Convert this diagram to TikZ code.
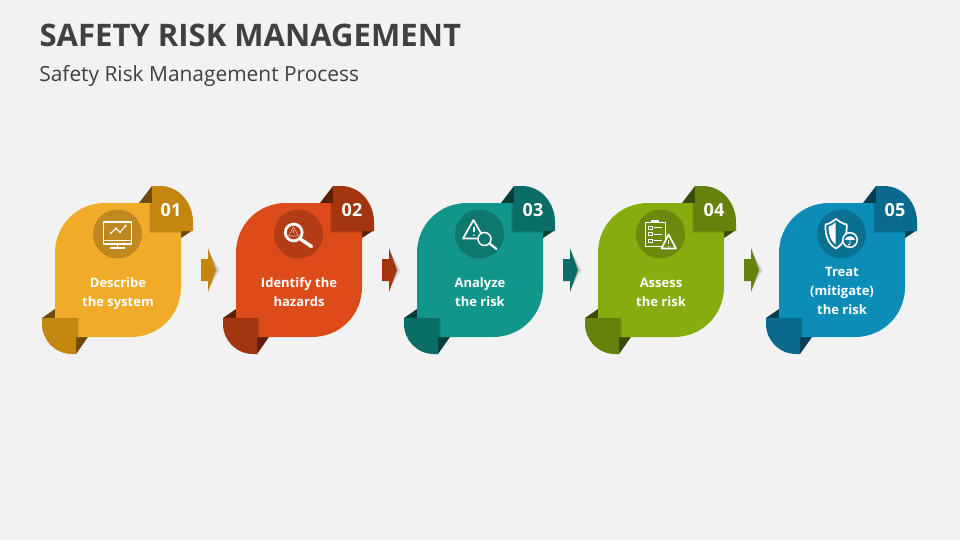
\documentclass[tikz,border=0pt]{standalone}
\usepackage{fontspec}
\setmainfont{Open Sans}
\definecolor{pagebg}{HTML}{F2F2F2}
\definecolor{titlegray}{HTML}{404040}
\definecolor{cardA}{HTML}{F0AB28}
\definecolor{flapA}{HTML}{C4860F}
\definecolor{foldA}{HTML}{6E4B08}
\definecolor{cardB}{HTML}{DD4B1A}
\definecolor{flapB}{HTML}{A3360F}
\definecolor{foldB}{HTML}{5E1F08}
\definecolor{cardC}{HTML}{12958A}
\definecolor{flapC}{HTML}{0B6E66}
\definecolor{foldC}{HTML}{063F3A}
\definecolor{cardD}{HTML}{86AD10}
\definecolor{flapD}{HTML}{65820C}
\definecolor{foldD}{HTML}{3A4B06}
\definecolor{cardE}{HTML}{0C8DB8}
\definecolor{flapE}{HTML}{0A6A8E}
\definecolor{foldE}{HTML}{053D52}
\begin{document}
\begin{tikzpicture}[x=1pt,y=-1pt,
  cardtext/.style={text=white,align=center,font=\fontsize{13}{19}\selectfont\bfseries},
  numtext/.style={text=white,font=\fontsize{18}{18}\selectfont\bfseries},
  iconline/.style={draw=white,line width=1.5pt,line join=round},
  iconthick/.style={draw=white,line width=2.8pt,line cap=round},
  softshadow/.style={fill=black,opacity=0.09}]
% The page
\fill[pagebg] (0,0) rectangle (960,540);
\node[anchor=west,text=titlegray,font=\fontsize{31.05}{33}\selectfont\bfseries] (title) at (36,35) {SAFETY RISK MANAGEMENT};
\node[anchor=west,text=titlegray,font=\fontsize{20.9}{21}\selectfont] (subtitle) at (35.8,76) {Safety Risk Management Process};

% The five cards
\foreach \dx/\c/\num/\ly/\lbl in {
  0/A/01/294/{Describe\\the system},
  181/B/02/292/{Identify the\\hazards},
  362/C/03/292/{Analyze\\the risk},
  543/D/04/292/{Assess\\the risk},
  724/E/05/291/{Treat\\(mitigate)\\the risk}}
{
  \begin{scope}[shift={(\dx,0)}]
    % Folds behind the card
    \fill[fold\c] (139,203) -- (152,186) -- (152,203) -- cycle;
    \fill[fold\c] (181,230) -- (193,230) -- (181,238) -- cycle;
    \fill[fold\c] (42,318) -- (55,309) -- (55,318) -- cycle;
    \fill[fold\c] (76,354) -- (88,337) -- (76,337) -- cycle;
    % Card body
    \fill[card\c] (55,253) .. controls (55,225) and (77,203) .. (105,203)
      -- (181,203) -- (181,287) .. controls (181,315) and (159,337) .. (131,337)
      -- (55,337) -- cycle;
    % Flap shadows
    \foreach \off in {1,2,3}
    {
      \fill[softshadow] (152-\off,203) -- (152-\off,230+\off) -- (181,230+\off) -- (181,203) -- cycle;
      \fill[softshadow] (55,318) -- (76+\off,318) -- (76+\off,337) -- (55,337) -- cycle;
    }
    % Flaps
    \fill[flap\c] (152,186) -- (160,186) .. controls (179,186) and (193,203) .. (193,222)
      -- (193,231) -- (152,231) -- cycle;
    \fill[flap\c] (42,318) -- (76,318) -- (76,354) -- (72,354)
      .. controls (55,354) and (42,340) .. (42,324) -- cycle;
    % Icon disc and texts
    \fill[card\c!80!black] (117.5,234) circle (24.5);
    \node[numtext] (num\c) at (171,210) {\num};
    \node[cardtext] (label\c) at (118,\ly) {\lbl};
  \end{scope}
}

% The arrows between the cards
\foreach \dx/\c in {0/A,181/B,362/C,543/D}
{
  \begin{scope}[shift={(\dx,0)}]
    \foreach \off in {1,2,3,4,5}
      \fill[fill=black,opacity=0.06] (208,250) -- (215+\off,270) -- (208,290) -- cycle;
    \fill[flap\c] (201,259) -- (208,259) -- (208,248) -- (216,270) -- (208,292)
      -- (208,281) -- (201,281) -- cycle;
  \end{scope}
}

% Icon 1, the monitor
\draw[iconline] (103.5,222) rectangle (131.5,244);
\draw[iconline,line width=1pt] (103.5,240.5) -- (131.5,240.5);
\draw[iconline,line width=1pt] (111,233) -- (116,228.5) -- (120,232) -- (125.5,226);
\fill[white] (111,233) circle (1.4) (116,228.5) circle (1.4) (120,232) circle (1.4) (125.5,226) circle (1.4);
\draw[iconline] (117.5,244) -- (117.5,247.5);
\draw[iconline] (110,248) -- (125,248);

% Icon 2, the magnifier with a warning sign
\draw[iconthick] (293.7,232.5) circle (8.4);
\draw[iconthick,line width=3.4pt] (301,239.5) -- (311.5,246.5);
\draw[white,opacity=0.6,line width=0.6pt,line join=round] (293.5,227) -- (288.5,236) -- (298.5,236) -- cycle;
\draw[white,opacity=0.6,line width=0.6pt] (293.5,230) -- (293.5,233);

% Icon 3, the warning sign with a magnifier
\draw[iconline,line width=1.7pt] (473.5,220) -- (463,238.5) -- (484,238.5) -- cycle;
\draw[iconline] (474,226.5) -- (474,232);
\fill[white] (474,235) circle (0.9);
\filldraw[iconline,fill=cardC!80!black] (484.5,239) circle (6.5);
\draw[iconthick,line width=2.2pt] (489.5,243.5) -- (496.5,249);

% Icon 4, the checklist with a warning sign
\draw[iconline] (645.5,222.5) rectangle (665.5,246.5);
\fill[white] (650.5,219.5) rectangle (658.5,223);
\foreach \yy in {227.5,234,240.5}
{
  \draw[white,line width=0.7pt] (648.5,\yy-1.5) rectangle (652,\yy+1.5);
  \draw[white,line width=1pt] (654,\yy) -- (662,\yy);
}
\filldraw[iconline,line width=1.7pt,fill=cardD!80!black] (668.5,234.5) -- (661.5,248.5) -- (676,248.5) -- cycle;
\draw[iconline,line width=1.3pt] (668.7,239.5) -- (668.7,244);
\fill[white] (668.7,246.3) circle (0.7);

% Icon 5, the shield with an umbrella
\draw[iconline,line width=1.7pt] (836,219) .. controls (832,222) and (829,224) .. (825.5,224.5)
  .. controls (825,235) and (828,244) .. (836,248.5) .. controls (844,244) and (847,235) .. (846.8,224.5)
  .. controls (843,224) and (840,222) .. cycle;
\fill[white] (835.5,222.5) .. controls (833,224.5) and (831,226) .. (828.5,226.5)
  .. controls (828.5,234) and (830.5,241) .. (835.5,244.5) -- cycle;
\filldraw[iconline,fill=cardE!80!black] (850,240) circle (7.3);
\fill[white] (845,240) .. controls (845,234.5) and (855,234.5) .. (855,240) -- cycle;
\draw[white,line width=0.7pt] (850,240) -- (850,244) .. controls (850,245.5) and (848,245.5) .. (848,244);
\end{tikzpicture}
\end{document}
